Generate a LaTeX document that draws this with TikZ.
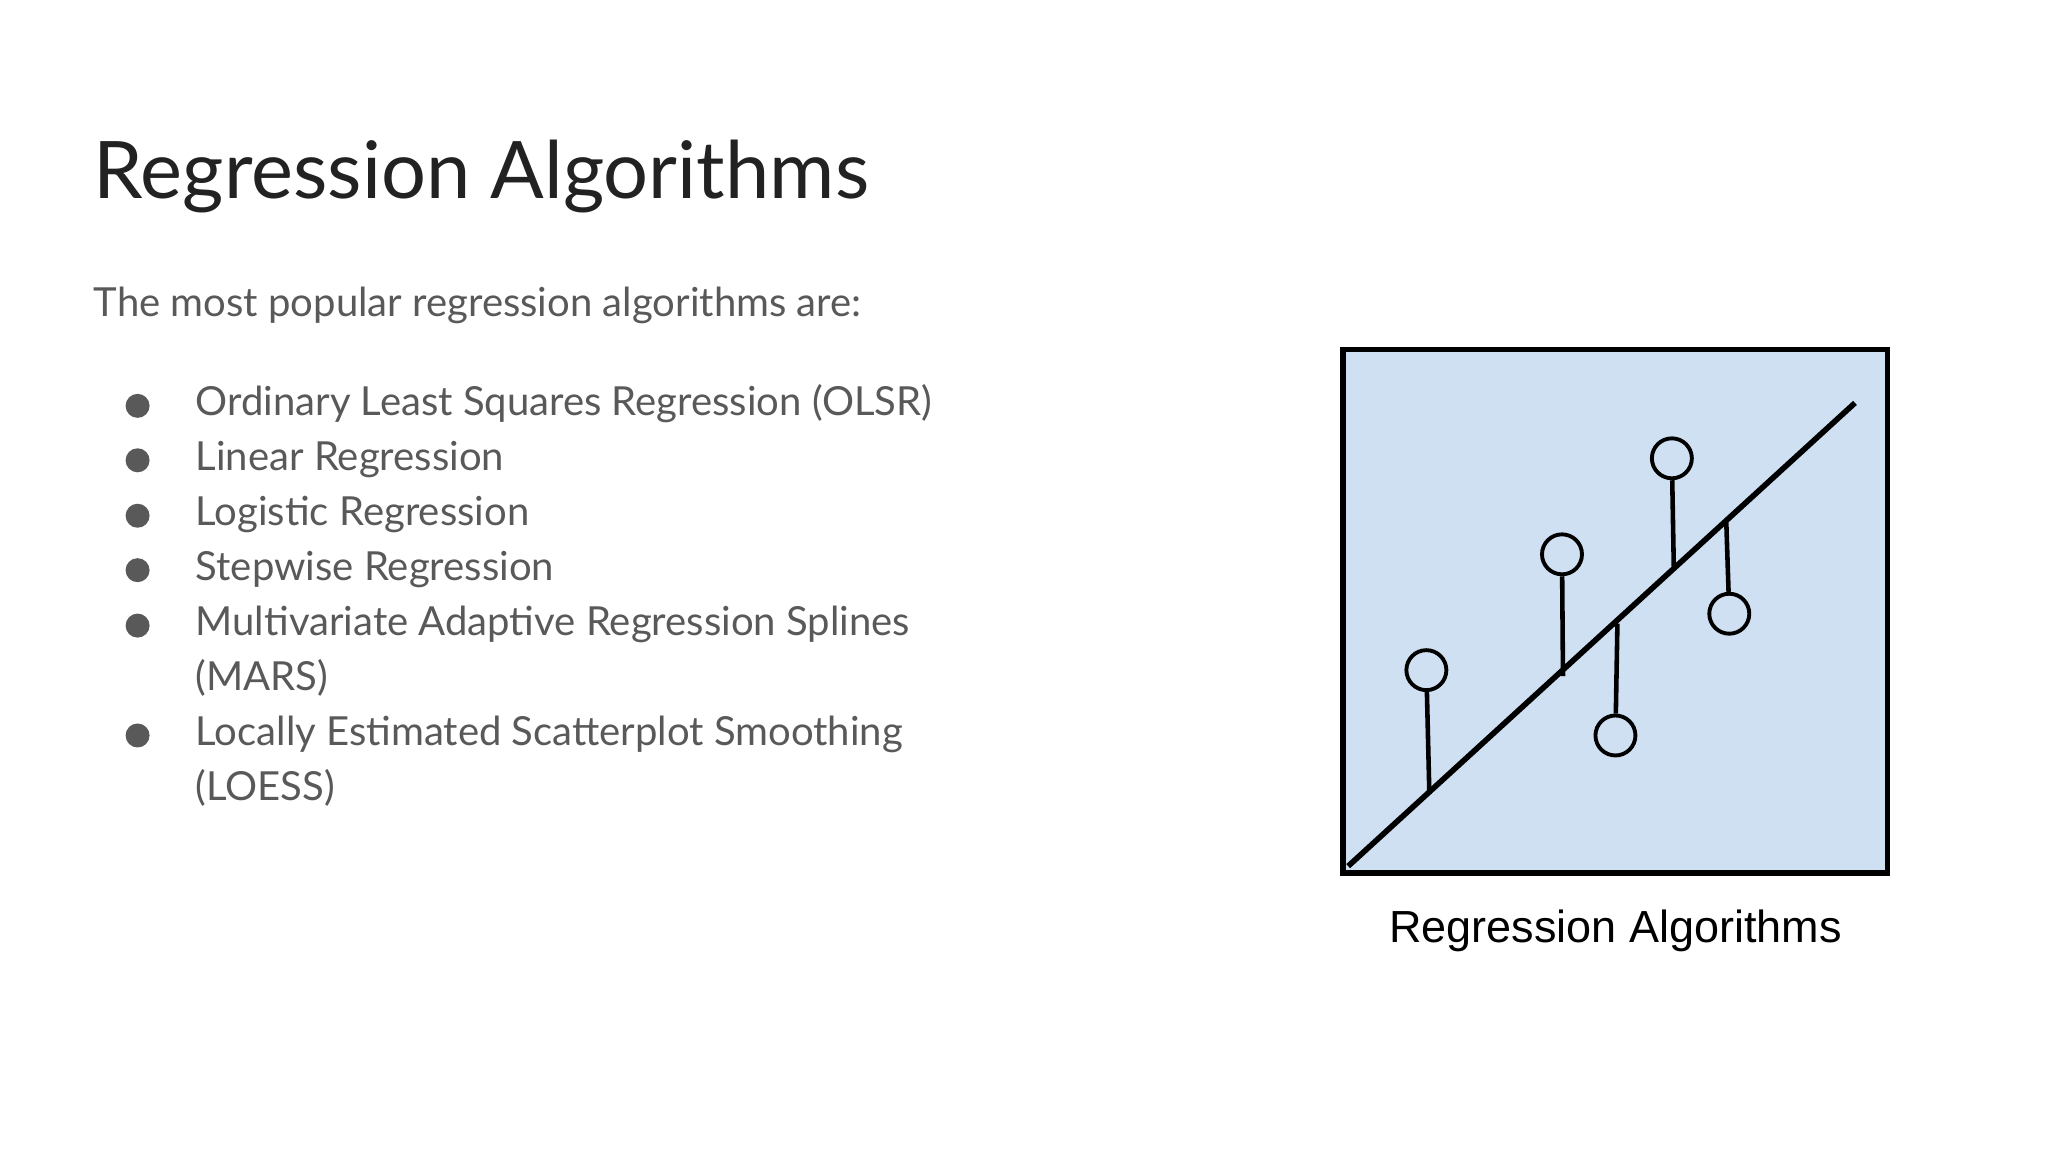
\documentclass[tikz,border=0pt]{standalone}
\usepackage{fontspec}
\setmainfont{Lato}
\newfontfamily\capfont{Liberation Sans}
\definecolor{txt}{HTML}{595959}
\definecolor{ttl}{HTML}{222222}
\definecolor{boxblue}{HTML}{CFE0F2}
\begin{document}
\begin{tikzpicture}[x=0.0099cm,y=-0.0099cm,
  body/.style={anchor=base west,inner sep=0,text=txt,font=\fontsize{11.4}{13}\selectfont},
  dot/.style={circle,fill=txt,minimum size=0.24cm,inner sep=0},
  pt/.style={circle,draw=black,line width=1.1pt,minimum size=0.4cm,inner sep=0,fill=boxblue}]
\useasboundingbox (0,0) rectangle (2069,1164);
\node[anchor=base west,inner sep=0,text=ttl,font=\fontsize{22.6}{28}\selectfont] (title) at (94,201) {Regression Algorithms};
\node[body] (intro) at (94,320) {The most popular regression algorithms are:};
\foreach \y/\t [count=\i] in {420/Ordinary Least Squares Regression (OLSR),475/Linear Regression,531/Logistic Regression,586/Stepwise Regression,642/Multivariate Adaptive Regression Splines,753/Locally Estimated Scatterplot Smoothing}{
  \node[dot] (b\i) at (139,\y-10) {};
  \node[body] (t\i) at (197,\y) {\t};
}
\node[body] (t5b) at (197,698) {(MARS)};
\node[body] (t6b) at (197,809) {(LOESS)};
% plot
\draw[line width=1.6pt,fill=boxblue] (1357,353) rectangle (1907,882);
\coordinate (l0) at (1362,875); \coordinate (l1) at (1874,407);
\draw[line width=1.6pt] (l0) -- (l1);
\node[pt] (p1) at (1441,677) {};
\node[pt] (p2) at (1578,560) {};
\node[pt] (p3) at (1689,463) {};
\node[pt] (p4) at (1747,620) {};
\node[pt] (p5) at (1632,743) {};
\coordinate (q1) at (1444,802); \coordinate (q2) at (1579,683);
\coordinate (q3) at (1691,576); \coordinate (q4) at (1744,528);
\coordinate (q5) at (1634,630);
\foreach \i in {1,...,5} \draw[line width=1.3pt] (p\i) -- (q\i);
\node[anchor=base,inner sep=0,font=\capfont\fontsize{12.8}{15}\selectfont] (cap) at (1632,952) {Regression Algorithms};
\end{tikzpicture}
\end{document}
